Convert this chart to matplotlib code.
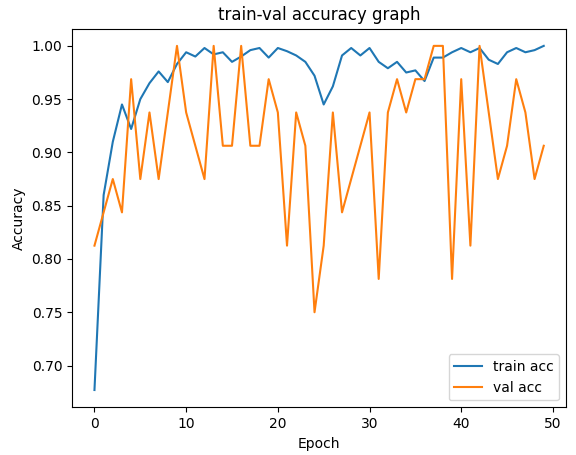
import matplotlib
matplotlib.use("Agg")
import matplotlib.pyplot as plt

epochs = list(range(50))
train_acc = [0.677, 0.86, 0.91, 0.945, 0.922, 0.95, 0.965, 0.976, 0.966, 0.983,
             0.994, 0.99, 0.998, 0.992, 0.994, 0.985, 0.99, 0.996, 0.998, 0.989,
             0.998, 0.995, 0.991, 0.985, 0.972, 0.945, 0.962, 0.991, 0.998, 0.991,
             0.998, 0.985, 0.979, 0.985, 0.975, 0.977, 0.967, 0.989, 0.989, 0.994,
             0.998, 0.994, 0.998, 0.987, 0.983, 0.994, 0.998, 0.994, 0.996, 1.0]
val_acc = [0.8125, 0.84375, 0.875, 0.84375, 0.96875, 0.875, 0.9375, 0.875, 0.9375, 1.0,
           0.9375, 0.90625, 0.875, 1.0, 0.90625, 0.90625, 1.0, 0.90625, 0.90625, 0.96875,
           0.9375, 0.8125, 0.9375, 0.90625, 0.75, 0.8125, 0.9375, 0.84375, 0.875, 0.90625,
           0.9375, 0.78125, 0.9375, 0.96875, 0.9375, 0.96875, 0.96875, 1.0, 1.0, 0.78125,
           0.96875, 0.8125, 1.0, 0.9375, 0.875, 0.90625, 0.96875, 0.9375, 0.875, 0.90625]

fig, ax = plt.subplots(figsize=(5.76, 4.55), dpi=100)
ax.plot(epochs, train_acc, label="train acc")
ax.plot(epochs, val_acc, label="val acc")
ax.set_title("train-val accuracy graph")
ax.set_xlabel("Epoch")
ax.set_ylabel("Accuracy")
ax.legend(loc="lower right")
fig.subplots_adjust(left=0.125, right=0.983, top=0.937, bottom=0.105)
fig.savefig("out.png")
